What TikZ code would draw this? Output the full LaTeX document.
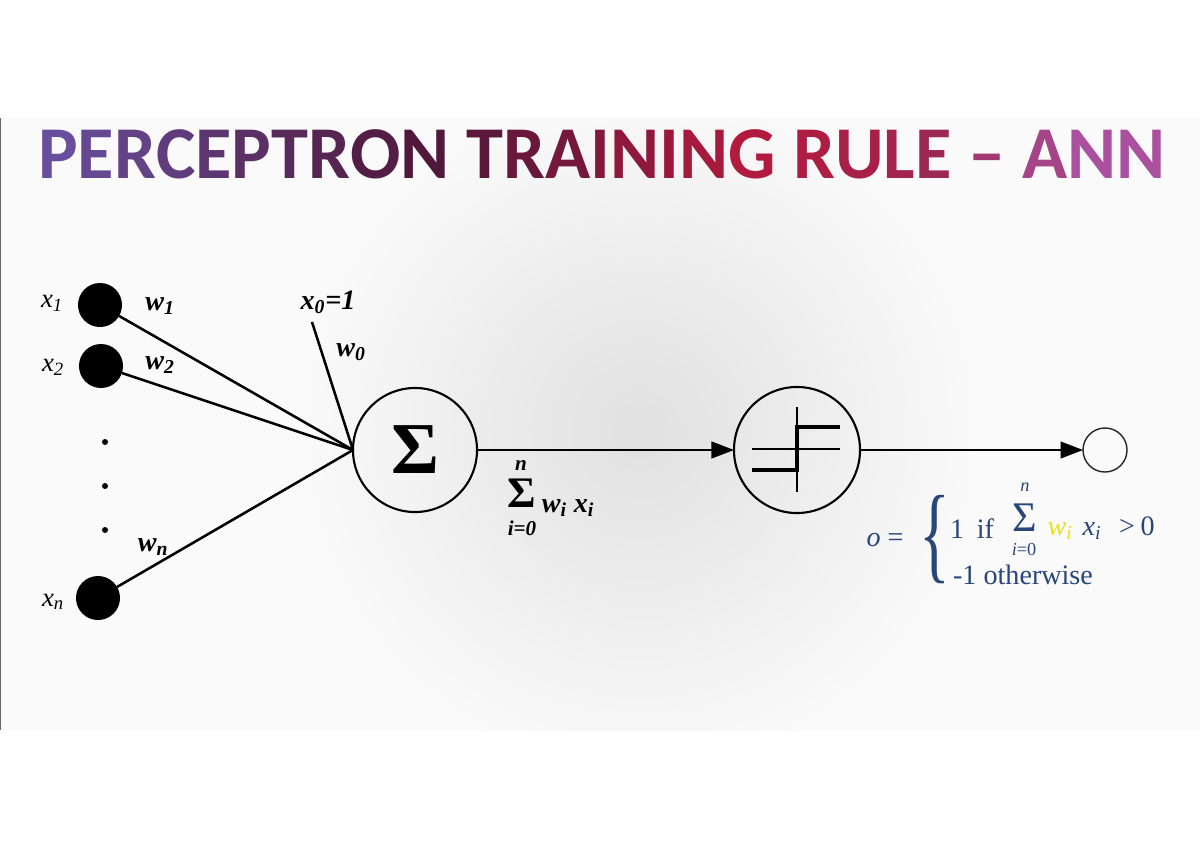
\documentclass[tikz,border=0pt]{standalone}
\usepackage{fontspec}
\setmainfont{Liberation Serif}
\newfontfamily\titlefont{Carlito}
\usetikzlibrary{arrows.meta}
\definecolor{cA}{RGB}{104,78,156}
\definecolor{cB}{RGB}{80,24,58}
\definecolor{cC}{RGB}{178,26,62}
\definecolor{cD}{RGB}{156,40,84}
\definecolor{cE}{RGB}{170,80,158}
\definecolor{navy}{RGB}{40,70,120}
\definecolor{ylw}{RGB}{232,226,30}
\begin{document}
\begin{tikzpicture}[x=0.025cm,y=-0.025cm,
  inp/.style={circle, fill=black, minimum size=1.1cm, inner sep=0pt, outer sep=0pt},
  unit/.style={circle, draw=black, line width=1.5pt, minimum size=3.1cm, inner sep=0pt, outer sep=0pt},
  outc/.style={circle, draw=black!85, line width=1pt, minimum size=1.1cm, inner sep=0pt, outer sep=0pt},
  dotn/.style={circle, fill=black, minimum size=0.15cm, inner sep=0pt},
  lbl/.style={font=\fontsize{19}{22}\selectfont\itshape, inner sep=0pt},
  wlbl/.style={font=\fontsize{20}{22}\selectfont\bfseries\itshape, inner sep=0pt},
  wire/.style={line width=1.8pt},
  sig/.style={line width=1.1pt, -{Triangle[length=16pt,width=12pt]}},
  ftxt/.style={text=navy, inner sep=0pt, font=\fontsize{20}{22}\selectfont},
  fsm/.style={text=navy, inner sep=0pt, font=\fontsize{13}{14}\selectfont\itshape}
]
\useasboundingbox (0,0) rectangle (1200,849);
\fill[white] (0,0) rectangle (1200,849);
\fill[gray!4] (0,118) rectangle (1200,730);
\begin{scope}
  \clip (0,118) rectangle (1200,730);
  \shade[inner color=gray!24, outer color=gray!4] (640,430) ellipse (340 and 340);
\end{scope}
\draw[black!60, line width=1pt] (0.5,118) -- (0.5,730);

% title
\node[anchor=base, inner sep=0pt, font=\titlefont\bfseries\fontsize{53}{60}\selectfont] (title) at (602,178)
{{\color{cA}P}{\color{cA!89!cB}E}{\color{cA!78!cB}R}{\color{cA!67!cB}C}{\color{cA!56!cB}E}{\color{cA!44!cB}P}{\color{cA!33!cB}T}{\color{cA!22!cB}R}{\color{cA!11!cB}O}{\color{cB}N} {\color{cB!88!cC}T}{\color{cB!75!cC}R}{\color{cB!62!cC}A}{\color{cB!50!cC}I}{\color{cB!37!cC}N}{\color{cB!25!cC}I}{\color{cB!12!cC}N}{\color{cC}G} {\color{cC!80!cD}R}{\color{cC!55!cD}U}{\color{cC!30!cD}L}{\color{cD}E} {\color{cD!60!cE}–} {\color{cD!30!cE}A}{\color{cE}N}{\color{cE}N}};

% inputs
\node[inp] (in1) at (100,305) {};
\node[inp] (in2) at (101,366) {};
\node[inp] (inn) at (98,598) {};
\node[dotn] (d1) at (105,442) {};
\node[dotn] (d2) at (105,486) {};
\node[dotn] (d3) at (105,530) {};
\node[lbl] (lx1) at (52,303) {x\textsubscript{1}};
\node[lbl] (lx2) at (53,367) {x\textsubscript{2}};
\node[lbl] (lxn) at (53,602) {x\textsubscript{n}};

% units
\node[unit, font=\fontsize{52}{52}\selectfont\bfseries] (sum) at (415,450) {Σ};
\node[unit, minimum size=3.15cm] (step) at (797,450) {};
\node[outc] (out) at (1105,450) {};

% bias
\node[wlbl] (x0) at (328,302) {x\textsubscript{0}=1};
\coordinate (w0s) at (312,322);

% wires
\draw[wire] (in1) -- (sum.west);
\draw[wire] (in2) -- (sum.west);
\draw[wire] (inn) -- (sum.west);
\draw[wire] (w0s) -- (sum.west);
\node[wlbl] (lw1) at (160,306) {w\textsubscript{1}};
\node[wlbl] (lw2) at (160,365) {w\textsubscript{2}};
\node[wlbl] (lwn) at (153,547) {w\textsubscript{n}};
\node[wlbl] (lw0) at (351,352) {w\textsubscript{0}};

% signal arrows
\draw[sig] (sum) -- (step);
\draw[sig] (step) -- (out);

% step symbol
\draw[line width=1.1pt] (797,407) -- (797,492);
\draw[line width=1pt] (752,449) -- (840,449);
\draw[line width=3.4pt] (752,470) -- (797,470) -- (797,427) -- (840,427);

% sum label
\node[inner sep=0pt, font=\fontsize{15}{16}\selectfont\bfseries\itshape] (sn) at (521,466) {n};
\node[inner sep=0pt, font=\fontsize{31}{32}\selectfont\bfseries] (ss) at (522,493) {Σ};
\node[inner sep=0pt, font=\fontsize{15}{16}\selectfont\bfseries\itshape] (si) at (522,528) {i=0};
\node[inner sep=0pt, font=\fontsize{20}{22}\selectfont\bfseries\itshape] (swx) at (568,508) {w\textsubscript{i} x\textsubscript{i}};

% output formula
\node[ftxt] (oeq) at (885,540) {\textit{o} =};
\node[text=navy, inner sep=0pt] (obr) at (935,540) {\scalebox{0.6}[1]{\fontsize{76}{76}\selectfont\{}};
\node[ftxt] (oif) at (972,529) {1\hspace{0.45em}if};
\node[ftxt, font=\fontsize{30}{30}\selectfont] (osig) at (1025,518) {Σ};
\node[fsm] (on) at (1025,487) {n};
\node[fsm] (oi) at (1024,549) {i\upshape=0};
\node[ftxt, text=ylw, font=\fontsize{20}{22}\selectfont\itshape] (ow) at (1060,531) {w\textsubscript{i}};
\node[ftxt, font=\fontsize{20}{22}\selectfont\itshape] (ox) at (1092,531) {x\textsubscript{i}};
\node[ftxt] (ogt) at (1137,526) {>\hspace{0.2em}0};
\node[ftxt] (oth) at (1023,575) {-1 otherwise};
\end{tikzpicture}
\end{document}
